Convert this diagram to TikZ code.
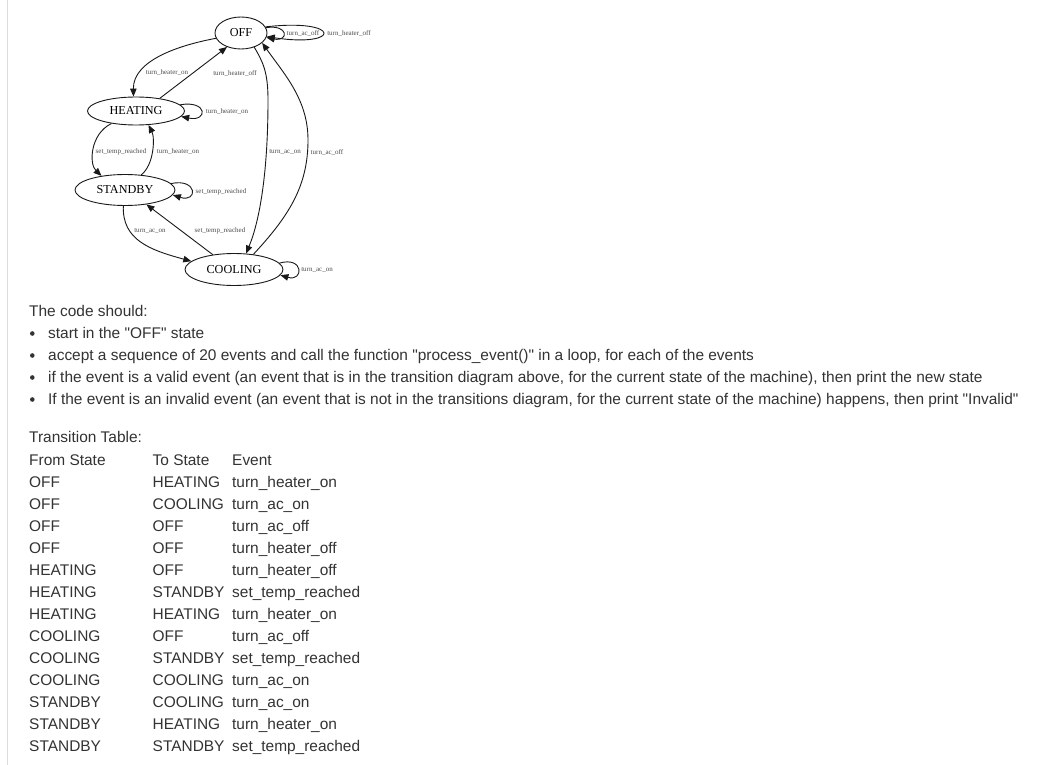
\documentclass[tikz,border=0pt]{standalone}
\usepackage{fontspec}
\setmainfont{Liberation Serif}
\newfontfamily\uifont{Liberation Sans}
\usetikzlibrary{shapes.geometric,arrows.meta}
\definecolor{txt}{HTML}{333333}
\definecolor{rulec}{HTML}{DDDDDD}
\begin{document}
\begin{tikzpicture}[x=1pt,y=-1pt,
  >={Triangle[length=8pt,width=6.5pt]},
  state/.style={ellipse, draw=black!90, line width=0.9pt, inner sep=0pt, font=\fontsize{12.2}{13}\selectfont},
  elabel/.style={font=\fontsize{7}{8}\selectfont, text=black!70, inner sep=0pt},
  edge/.style={->, line width=0.9pt, draw=black!90},
  para/.style={anchor=base west, inner sep=0pt, font=\uifont\fontsize{15.45}{18}\selectfont, text=txt},
  dot/.style={circle, fill=txt, inner sep=0pt, minimum size=4.6pt}]
\useasboundingbox (0,0) rectangle (1047,765);
\fill[white] (0,0) rectangle (1047,765);
\draw[rulec, line width=1.5pt] (7.5,0) -- (7.5,765);

% states
\node[state, minimum width=52pt, minimum height=32pt] (OFF) at (241,33) {OFF};
\node[state, minimum width=97pt, minimum height=28pt] (HEATING) at (136,111) {HEATING};
\node[state, minimum width=100pt, minimum height=31pt] (STANDBY) at (125,190) {STANDBY};
\node[state, minimum width=98pt, minimum height=32pt] (COOLING) at (234,269.5) {COOLING};

% edges
\draw[edge] (OFF.192) .. controls (180,45) and (133,60) .. (HEATING.100);
\draw[edge] (HEATING.28) -- (OFF.225);
\draw[edge] (OFF.12) .. controls (289,24) and (289,42) .. (OFF.-10);
\draw[edge] (OFF.14) .. controls (342,18) and (342,48) .. (OFF.-8);
\draw[edge] (HEATING.8) .. controls (208,100) and (208,122) .. (HEATING.-7);
\draw[edge] (HEATING.207) .. controls (90,134) and (89,164) .. (STANDBY.149);
\draw[edge] (STANDBY.43) .. controls (154,165) and (155,138) .. (HEATING.312);
\draw[edge] (STANDBY.8) .. controls (198,178) and (198,203) .. (STANDBY.-6);
\draw[edge] (STANDBY.264) .. controls (122,240) and (150,250) .. (COOLING.169);
\draw[edge] (COOLING.145) -- (STANDBY.326);
\draw[edge] (OFF.313) .. controls (263,62) and (268,72) .. (268,100) .. controls (268,180) and (258,225) .. (COOLING.53);
\draw[edge] (COOLING.38) .. controls (290,215) and (308,185) .. (308,140) .. controls (308,100) and (285,75) .. (OFF.335);
\draw[edge] (COOLING.8) .. controls (304,256) and (304,282) .. (COOLING.-7);

% edge labels
\node[elabel] (l1) at (167,73) {turn\_heater\_on};
\node[elabel] (l2) at (235,73) {turn\_heater\_off};
\node[elabel] (l3) at (303,33) {turn\_ac\_off};
\node[elabel] (l4) at (349,33) {turn\_heater\_off};
\node[elabel] (l5) at (227,112) {turn\_heater\_on};
\node[elabel] (l6) at (121,152) {set\_temp\_reached};
\node[elabel] (l7) at (178,152) {turn\_heater\_on};
\node[elabel] (l8) at (221,192) {set\_temp\_reached};
\node[elabel] (l9) at (150,231) {turn\_ac\_on};
\node[elabel] (l10) at (220,231) {set\_temp\_reached};
\node[elabel] (l11) at (285,152) {turn\_ac\_on};
\node[elabel] (l12) at (327,152) {turn\_ac\_off};
\node[elabel] (l13) at (317,270) {turn\_ac\_on};

% text
\node[para] (p0) at (29,316.8) {The code should:};
\node[dot] (d1) at (32.3,333.5) {};
\node[dot] (d2) at (32.3,355.5) {};
\node[dot] (d3) at (32.3,377.5) {};
\node[dot] (d4) at (32.3,399.5) {};
\node[para] (p1) at (48,338.5) {start in the "OFF" state};
\node[para] (p2) at (48,360.5) {accept a sequence of 20 events and call the function "process\_event()" in a loop, for each of the events};
\node[para] (p3) at (48,382.5) {if the event is a valid event (an event that is in the transition diagram above, for the current state of the machine), then print the new state};
\node[para] (p4) at (48,404.5) {If the event is an invalid event (an event that is not in the transitions diagram, for the current state of the machine) happens, then print "Invalid"};

\node[para] (tt) at (29,442.3) {Transition Table:};
\node[para] (h1) at (29,465) {From State};
\node[para] (h2) at (152.5,465) {To State};
\node[para] (h3) at (232,465) {Event};
\foreach \a/\b/\c [count=\i] in {
  OFF/HEATING/turn\_heater\_on,
  OFF/COOLING/turn\_ac\_on,
  OFF/OFF/turn\_ac\_off,
  OFF/OFF/turn\_heater\_off,
  HEATING/OFF/turn\_heater\_off,
  HEATING/STANDBY/set\_temp\_reached,
  HEATING/HEATING/turn\_heater\_on,
  COOLING/OFF/turn\_ac\_off,
  COOLING/STANDBY/set\_temp\_reached,
  COOLING/COOLING/turn\_ac\_on,
  STANDBY/COOLING/turn\_ac\_on,
  STANDBY/HEATING/turn\_heater\_on,
  STANDBY/STANDBY/set\_temp\_reached}{
  \node[para] (ra\i) at (29,465+22*\i) {\a};
  \node[para] (rb\i) at (152.5,465+22*\i) {\b};
  \node[para] (rc\i) at (232,465+22*\i) {\c};
}
\end{tikzpicture}
\end{document}
